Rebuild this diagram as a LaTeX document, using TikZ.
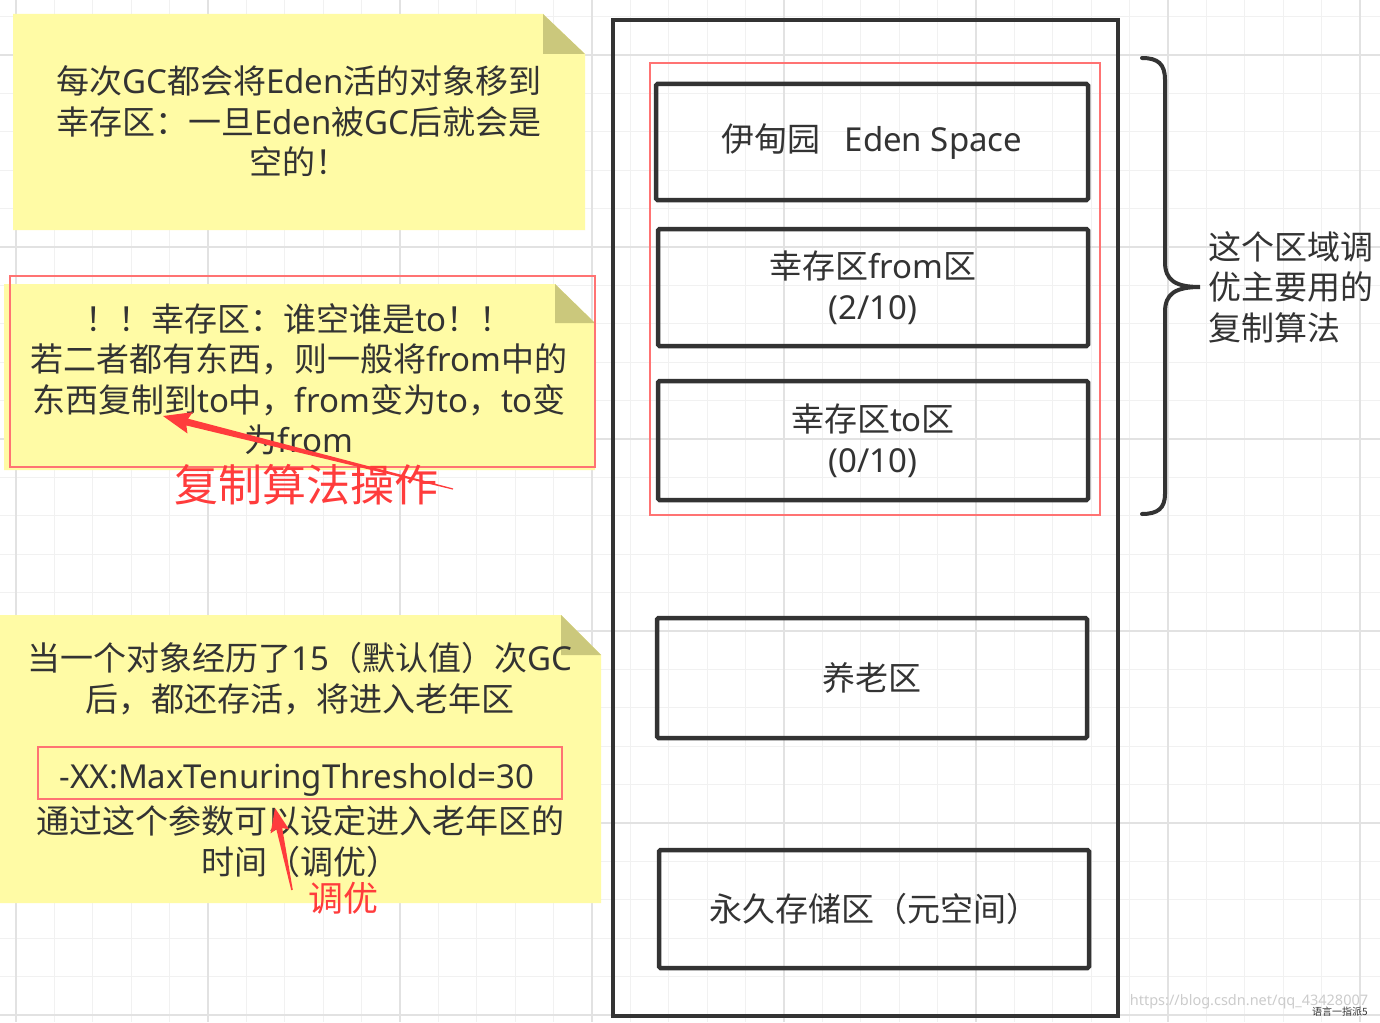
\documentclass[tikz,border=0pt]{standalone}
\usepackage{fontspec}
\setmainfont{Noto Sans CJK SC}
\newfontfamily\latfont{Noto Sans}
\newcommand\latn[1]{{\latfont #1}}
\usetikzlibrary{calc}
\definecolor{ink}{HTML}{333333}
\definecolor{notey}{HTML}{FFFBA5}
\definecolor{foldc}{HTML}{CBC87C}
\definecolor{pen}{HTML}{FF3C3C}
\definecolor{boxred}{HTML}{FF7373}
\definecolor{gridmin}{HTML}{F1F1F1}
\definecolor{gridmaj}{HTML}{E2E2E2}
\begin{document}
\begin{tikzpicture}[x=1pt,y=-1pt,
  txt/.style={text=ink, align=center, font=\fontsize{33}{40.5}\selectfont, inner sep=0pt},
  membox/.style={txt, draw=ink, line width=4.5pt, rounded corners=1.5pt},
  heapbox/.style={draw=ink, line width=4pt},
  redbox/.style={draw=boxred, line width=1.3pt},
  notefill/.style={fill=notey},
  foldfill/.style={fill=foldc},
  pentext/.style={text=pen, inner sep=0pt},
  bracepath/.style={draw=ink, line width=4pt, line cap=round}]
\useasboundingbox (0,0) rectangle (1380,1022);
\fill[white] (0,0) rectangle (1380,1022);
% grid
\foreach \k in {0,...,35}{\pgfmathsetmacro\xx{16+38.4*\k}
  \draw[gridmin, line width=1.3pt] (\xx,0) -- (\xx,1022);}
\foreach \k in {0,...,26}{\pgfmathsetmacro\yy{16.6+38.4*\k}
  \draw[gridmin, line width=1.3pt] (0,\yy) -- (1380,\yy);}
\foreach \k in {0,5,...,35}{\pgfmathsetmacro\xx{16+38.4*\k}
  \draw[gridmaj, line width=1.3pt] (\xx,0) -- (\xx,1022);}
\foreach \k in {1,6,...,26}{\pgfmathsetmacro\yy{16.6+38.4*\k}
  \draw[gridmaj, line width=1.3pt] (0,\yy) -- (1380,\yy);}

% note 1
\fill[notefill] (13,14) -- (543,14) -- (585,54) -- (585,230) -- (13,230) -- cycle;
\fill[foldfill] (543,14) -- (585,54) -- (543,54) -- cycle;
\node[txt] (n1) at (299,121.5) {每次\latn{GC}都会将\latn{Eden}活的对象移到\\幸存区：一旦\latn{Eden}被\latn{GC}后就会是\\空的！};

% note 2
\fill[notefill] (4,284) -- (555,284) -- (595,323) -- (595,470) -- (4,470) -- cycle;
\fill[foldfill] (555,284) -- (595,323) -- (555,323) -- cycle;
\draw[redbox] (10,276) rectangle (595,467);
\node[txt] (n2) at (299,379) {！！幸存区：谁空谁是\latn{to}！！\\若二者都有东西，则一般将\latn{from}中的\\东西复制到\latn{to}中，\latn{from}变为\latn{to}，\latn{to}变\\为\latn{from}};
\node[pentext, font=\fontsize{44}{44}\selectfont] (copyop) at (306,485) {复制算法操作};

% note 3
\fill[notefill] (0,615) -- (561,615) -- (601,655) -- (601,903) -- (0,903) -- cycle;
\fill[foldfill] (561,615) -- (601,655) -- (561,655) -- cycle;
\node[txt] (n3a) at (300,678.5) {当一个对象经历了\latn{15}（默认值）次\latn{GC}\\后，都还存活，将进入老年区};
\draw[redbox] (38,747) rectangle (562,799);
\node[txt] (n3b) at (297,780) {\latn{-XX:MaxTenuringThreshold=30}};
\node[txt] (n3c) at (300,841.5) {通过这个参数可以设定进入老年区的\\时间（调优）};
\node[pentext, font=\fontsize{35}{35}\selectfont] (tune) at (343,898) {调优};

% heap
\node[heapbox, minimum width=505pt, minimum height=996pt] (heap) at (865.5,518) {};
\draw[redbox] (650,63) rectangle (1100,515);
\node[membox, minimum width=432pt, minimum height=116pt] (eden) at (872,142) {伊甸园\hspace{24pt}\latn{Eden Space}};
\node[membox, minimum width=430pt, minimum height=117pt] (from) at (873,287.5) {幸存区\latn{from}区\\\latn{(2/10)}};
\node[membox, minimum width=430pt, minimum height=119pt] (to) at (873,440.5) {幸存区\latn{to}区\\\latn{(0/10)}};
\node[membox, minimum width=430pt, minimum height=120pt] (old) at (872,678) {养老区};
\node[membox, minimum width=430pt, minimum height=118pt] (perm) at (874,909) {永久存储区（元空间）};

% brace
\draw[bracepath] (1142,58) .. controls (1158,58) and (1165,64) .. (1165,80) -- (1165,262)
  .. controls (1165,280) and (1175,287) .. (1200,287)
  .. controls (1175,287) and (1165,294) .. (1165,312) -- (1165,494)
  .. controls (1165,508) and (1158,514) .. (1142,514);
\node[txt, align=left, anchor=west] (bracetxt) at (1208,287) {这个区域调\\优主要用的\\复制算法};

% red arrows
\coordinate (a1tip) at (163,416);
\coordinate (a1tail) at (453,489);
\fill[pen] (a1tip)
  -- ($(a1tip)!28pt!(a1tail)!11pt!90:(a1tip)$)
  -- ($(a1tip)!25pt!(a1tail)!3.5pt!90:(a1tip)$)
  -- ($(a1tail)!0.6pt!90:(a1tip)$)
  -- ($(a1tail)!0.6pt!-90:(a1tip)$)
  -- ($(a1tip)!25pt!(a1tail)!3.5pt!-90:(a1tip)$)
  -- ($(a1tip)!28pt!(a1tail)!11pt!-90:(a1tip)$)
  -- cycle;
\coordinate (a2tip) at (275,808);
\coordinate (a2tail) at (292,890);
\fill[pen] (a2tip)
  -- ($(a2tip)!24pt!(a2tail)!9.5pt!90:(a2tip)$)
  -- ($(a2tip)!21pt!(a2tail)!3pt!90:(a2tip)$)
  -- ($(a2tail)!0.8pt!90:(a2tip)$)
  -- ($(a2tail)!0.8pt!-90:(a2tip)$)
  -- ($(a2tip)!21pt!(a2tail)!3pt!-90:(a2tip)$)
  -- ($(a2tip)!24pt!(a2tail)!9.5pt!-90:(a2tip)$)
  -- cycle;

% watermark
\node[text=black!20, font=\latfont\fontsize{14.5}{14.5}\selectfont, inner sep=0pt] (wm) at (1249,1002) {https://blog.csdn.net/qq\_43428007};
\node[text=ink, font=\fontsize{10}{10}\selectfont, inner sep=0pt] (wm2) at (1340,1012) {语言一指派5};
\end{tikzpicture}
\end{document}
